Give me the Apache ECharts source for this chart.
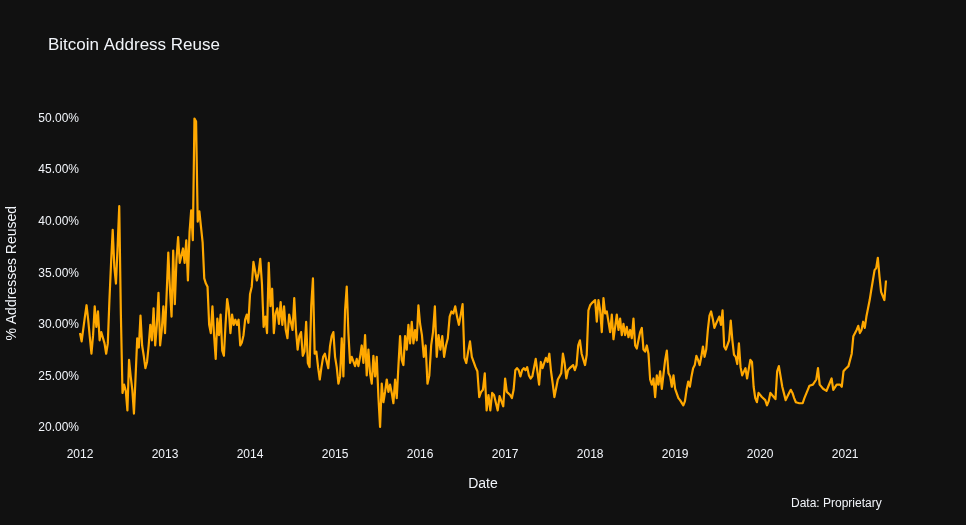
<!DOCTYPE html>
<html>
<head>
<meta charset="utf-8">
<title>Bitcoin Address Reuse</title>
<script src="https://cdn.jsdelivr.net/npm/echarts@6/dist/echarts.min.js"></script>
<style>
  html, body { margin: 0; padding: 0; background: #111111; }
  #chart { width: 966px; height: 525px; }
</style>
</head>
<body>
<div id="chart"></div>
<script>
// values, % of addresses reused, roughly weekly
const values2012 = [29.2,28.4,28.5,30.8,31.9,30.5,28.8,27.2,29,31.8,29.8,31.3,28.5,29.3,29.4,28.2,27.2,28.2,32.4,36,39.2,35.6,34,37.6,41.5,31,23.4,24.2,23.6,21.7,26.6,25,23.7,21.4,25,28.7,27.8,30.9,28,27,25.8,26.4,28,30,28.5,31.6,28,30,33.1,28,29.5,31.8];
const values2013 = [29.2,33,37,33.5,30.8,37.2,32,36.3,38.5,36,36,37.4,36,38.2,34.3,39,41.1,38.2,50,49.7,40,41,39.5,38,34.5,34,33.7,30,29.2,31.8,29,26.7,30.6,29,31,27.5,27,30,32.5,31.5,29.2,31,30,30.5,30,30.5,28,28.3,29,30.5,31,30.2];
const values2014 = [33,33.7,36.1,36,34.3,35,36.4,34,29.8,30.8,29.2,36,31.8,33.5,29.2,31.1,31.6,30.1,32.2,30,31.8,29.5,28.7,31,31,29.5,32.6,29.5,27.6,28.9,29.3,27,27.4,30.3,26.3,25.9,31.9,34.5,27.2,27.4,25.9,24.7,25.9,26.9,27.2,27.2,25.8,27.9,28.9,29.3];
const values2015 = [26.9,25.9,24.3,25,28.7,25,31.4,33.7,29.2,26.3,26.9,27,26,26.7,26,26.9,28,26.3,29,25.1,27.6,25.3,24.3,27,25,26.9,23,20.1,24.3,22.5,23.5,24.7,23.5,24.2,23.4,22.4,24.7,22.9,26,28.9,26.6,26.1,28.9,27.6,30,28.2,30.3,28.2,29.5,28.5,31.9];
const values2016 = [30.1,29,26.9,28,24.3,25.1,28,29.3,31.8,26.9,29,27.6,28.9,26.9,28,28.7,30.8,31.3,31.1,31.8,30.8,30,30,32,26.8,26.3,27.4,28.4,26.9,26.8,25.9,25.5,23,23.5,23.7,25.3,21.7,23.2,21.7,23.4,23.2,23.2,21.7,23.1,23.2,22.1];
const values2017 = [24.8,23.5,23.4,23.2,22.9,23.7,25.6,25.8,25.6,25,25.6,25.8,25.6,25.9,25.1,24.8,25,25.1,26.7,26.6,24.2,26.4,25.8,26.3,26.8,26.4,27.2,25.5,24.3,23,23,24.7,25,25.3,27.2,26.3,24.8,25.6,25.8,25.9,26.1,25.6,26.1,28,28.5,27.2,27.3,26.1,27.1,31.4];
const values2018 = [31.9,32.1,32.2,32.4,30.3,32.4,31.4,29.3,32.6,31.1,31.3,30.3,29.3,31,28.6,28.7,31,29.5,30.6,29,30.1,29,29.8,28.8,29.5,28.7,30.6,28,27.7,27.6,29.3,29.7,27.6,27.4,28,27.2,24.7,24.2,24.8,23,25.1,24.2,25.5,23.8,23.7,26.6,27.5,25.3,25,24,25.1];
const values2019 = [23.8,23.7,22.9,22.7,22.6,22.2,22.6,23.7,24.5,24,25,25.8,26.1,27,26.6,26.1,26.9,27.9,26.9,27.6,29.5,30.9,31.3,30.6,29.7,30.1,30,30.8,30,31.4,27.9,27.6,27.6,28.5,30.4,28.5,27.1,26.9,26.2,28.2,25.9,25.1,25,25.8,24.8,24.8,26.6,26.4,24,22.9,22.5,23.4];
const values2020 = [23.5,23,23.1,22.7,22.2,22.6,23.4,23.2,23.2,22.8,25.5,26,25,24,24,22.7,22.8,23.4,23.7,23.4,22.9,22.5,22.4,22.4,22.3,22.4,22.9,23,23.7,24.1,24.1,24.2,24.2,24.7,25.8,24.2,24.1,23.8,23.7,23.6,24,24,24.8,23.7,23.6,24.2,24.3,24.2,24,25.5];
const values2021 = [25.7,25.8,26,26.1,27.2,28.9,29,29.5,29.9,29.2,29.5,30.3,29.7,30.8,31.6,32.4,33.4,33.4,35.3,35.5,36.5,34.7,33.2,33.2,32.4,34.3];

const tickYears = [2012,2013,2014,2015,2016,2017,2018,2019,2020,2021];
const yearValues = [values2012,values2013,values2014,values2015,values2016,values2017,values2018,values2019,values2020];
const lastYearSpan = 0.48;

// x is a fractional year so that ticks land exactly on each year
const points = [];
yearValues.forEach((vals, y) => {
    vals.forEach((v, i) => points.push([tickYears[y] + i / vals.length, v]));
});
values2021.forEach((v, i) => points.push([2021 + lastYearSpan * i / (values2021.length - 1), v]));

const textColor = '#f2f5fa';
const fontFamily = '"Liberation Sans", Arial, sans-serif';

const chart = echarts.init(document.getElementById('chart'), null, {renderer: 'canvas'});
chart.setOption({
    animation: false,
    backgroundColor: '#111111',
    textStyle: {fontFamily},
    title: [
        {
            text: 'Bitcoin Address Reuse',
            left: 48,
            top: 37,
            padding: 0,
            textStyle: {color: textColor, fontSize: 17, fontWeight: 'normal', fontFamily}
        },
        {
            text: 'Data: Proprietary',
            left: 791,
            top: 498,
            padding: 0,
            textStyle: {color: textColor, fontSize: 12, fontWeight: 'normal', fontFamily}
        }
    ],
    grid: {left: 80, top: 118.5, width: 806, height: 309.5, outerBoundsMode: 'none'},
    xAxis: {
        type: 'value',
        min: tickYears[0],
        max: 2021 + lastYearSpan,
        interval: 1,
        name: 'Date',
        nameLocation: 'middle',
        nameGap: 49,
        nameTextStyle: {color: textColor, fontSize: 14, fontFamily},
        splitLine: {show: false},
        axisLine: {show: false},
        axisTick: {show: false},
        axisLabel: {
            color: textColor, fontSize: 12, margin: 21, fontFamily,
            showMaxLabel: false,
            formatter: v => String(v)
        }
    },
    yAxis: {
        type: 'value',
        min: 20,
        max: 50,
        interval: 5,
        name: '% Addresses Reused',
        nameLocation: 'middle',
        nameGap: 61,
        nameTextStyle: {color: textColor, fontSize: 14, fontFamily},
        splitLine: {show: false},
        axisLine: {show: false},
        axisTick: {show: false},
        axisLabel: {
            color: textColor, fontSize: 12, margin: 1, fontFamily,
            padding: [3, 0, 0, 0],
            formatter: v => v.toFixed(2) + '%'
        }
    },
    series: [{
        type: 'line',
        data: points,
        showSymbol: false,
        clip: false,
        lineStyle: {color: '#ffa800', width: 2.2, join: 'round'}
    }]
});
</script>
</body>
</html>
